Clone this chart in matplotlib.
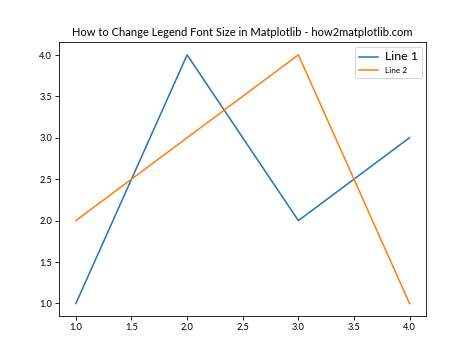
import matplotlib.pyplot as plt

plt.rcParams['font.family'] = ['Lato', 'DejaVu Sans']
plt.rcParams['font.size'] = 9

x = [1, 2, 3, 4]
line1 = [1, 4, 2, 3]
line2 = [2, 3, 4, 1]
labels = ["Line 1", "Line 2"]
label_sizes = [12, 8]


def main():
    fig, ax = plt.subplots(figsize=(6.4, 4.8), dpi=74)
    ax.plot(x, line1, label=labels[0])
    ax.plot(x, line2, label=labels[1])
    ax.set_title("How to Change Legend Font Size in Matplotlib - how2matplotlib.com")

    leg = ax.legend()
    # different size for each legend entry
    for text, size in zip(leg.get_texts(), label_sizes):
        text.set_fontsize(size)

    fig.savefig("out.png")


if __name__ == "__main__":
    main()
